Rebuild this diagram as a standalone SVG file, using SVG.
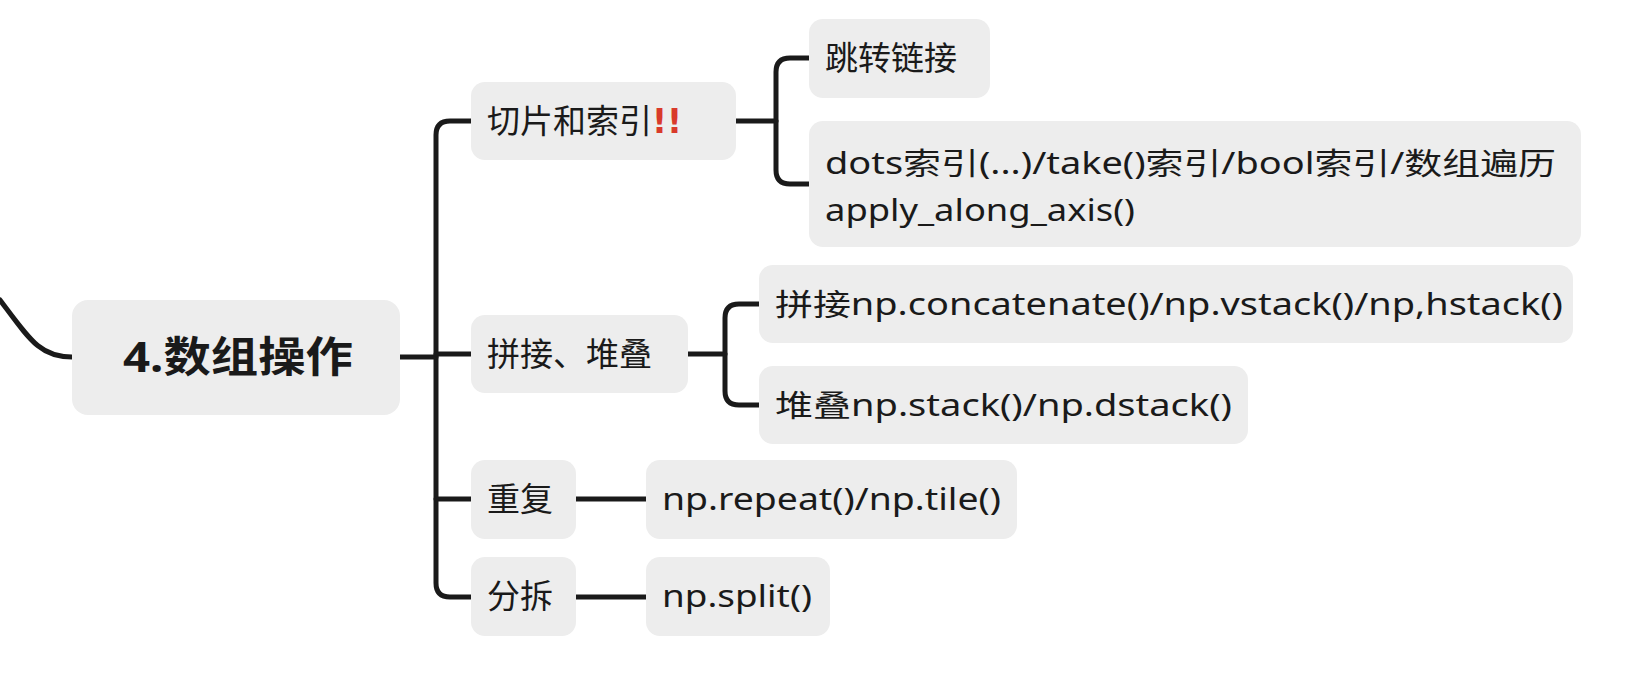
<svg xmlns="http://www.w3.org/2000/svg" width="1640" height="675" viewBox="0 0 1640 675">
<style>
.b{fill:#ededed}
.t{font-family:"Noto Sans","Noto Sans CJK SC",sans-serif;font-size:30px;fill:#1a1a1a}
.z{font-family:"Noto Sans CJK SC",sans-serif;font-size:33px;fill:#1a1a1a}
.c{fill:none;stroke:#1a1a1a;stroke-width:5;stroke-linecap:round}
</style>
<rect width="1640" height="675" fill="#fff"/>
<g id="connectors">
<path class="c" d="M0,300 C30,340 40,357 72,357"/>
<path class="c" d="M400,357 H436"/>
<path class="c" d="M471,121 H450 Q436,121 436,135 V583 Q436,597 450,597 H471"/>
<path class="c" d="M436,354 H471"/>
<path class="c" d="M436,499 H471"/>
<path class="c" d="M736,121 H776"/>
<path class="c" d="M809,58 H790 Q776,58 776,72 V170 Q776,184 790,184 H809"/>
<path class="c" d="M688,354 H725"/>
<path class="c" d="M759,304 H739 Q725,304 725,318 V391 Q725,405 739,405 H759"/>
<path class="c" d="M576,499 H646"/>
<path class="c" d="M576,597 H646"/>
</g>
<g id="root"><rect class="b" x="72" y="300" width="328" height="115" rx="16"/><text class="t" x="123" y="372" textLength="230" lengthAdjust="spacingAndGlyphs" style="font-size:42px;font-weight:bold">4.数组操作</text></g>
<g id="n1"><rect class="b" x="471" y="82" width="265" height="78" rx="14"/><text class="z" x="487" y="133">切片和索引<tspan fill="#d93a2b" font-family="DejaVu Sans" font-weight="bold">!!</tspan></text></g>
<g id="n11"><rect class="b" x="809" y="19" width="181" height="79" rx="14"/><text class="z" x="825" y="70">跳转链接</text></g>
<g id="n12"><rect class="b" x="809" y="121" width="772" height="126" rx="14"/><text class="t" x="825" y="174" textLength="731" lengthAdjust="spacingAndGlyphs">dots索引(...)/take()索引/bool索引/数组遍历</text><text class="t" x="825" y="221" textLength="310" lengthAdjust="spacingAndGlyphs">apply_along_axis()</text></g>
<g id="n2"><rect class="b" x="471" y="315" width="217" height="78" rx="14"/><text class="z" x="487" y="366">拼接、堆叠</text></g>
<g id="n21"><rect class="b" x="759" y="265" width="814" height="78" rx="14"/><text class="t" x="775" y="315" textLength="788" lengthAdjust="spacingAndGlyphs">拼接np.concatenate()/np.vstack()/np,hstack()</text></g>
<g id="n22"><rect class="b" x="759" y="366" width="489" height="78" rx="14"/><text class="t" x="775" y="416" textLength="457" lengthAdjust="spacingAndGlyphs">堆叠np.stack()/np.dstack()</text></g>
<g id="n3"><rect class="b" x="471" y="460" width="105" height="79" rx="14"/><text class="z" x="487" y="511">重复</text></g>
<g id="n31"><rect class="b" x="646" y="460" width="371" height="79" rx="14"/><text class="t" x="662" y="510" textLength="339" lengthAdjust="spacingAndGlyphs">np.repeat()/np.tile()</text></g>
<g id="n4"><rect class="b" x="471" y="557" width="105" height="79" rx="14"/><text class="z" x="487" y="608">分拆</text></g>
<g id="n41"><rect class="b" x="646" y="557" width="184" height="79" rx="14"/><text class="t" x="662" y="607" textLength="150" lengthAdjust="spacingAndGlyphs">np.split()</text></g>
</svg>
